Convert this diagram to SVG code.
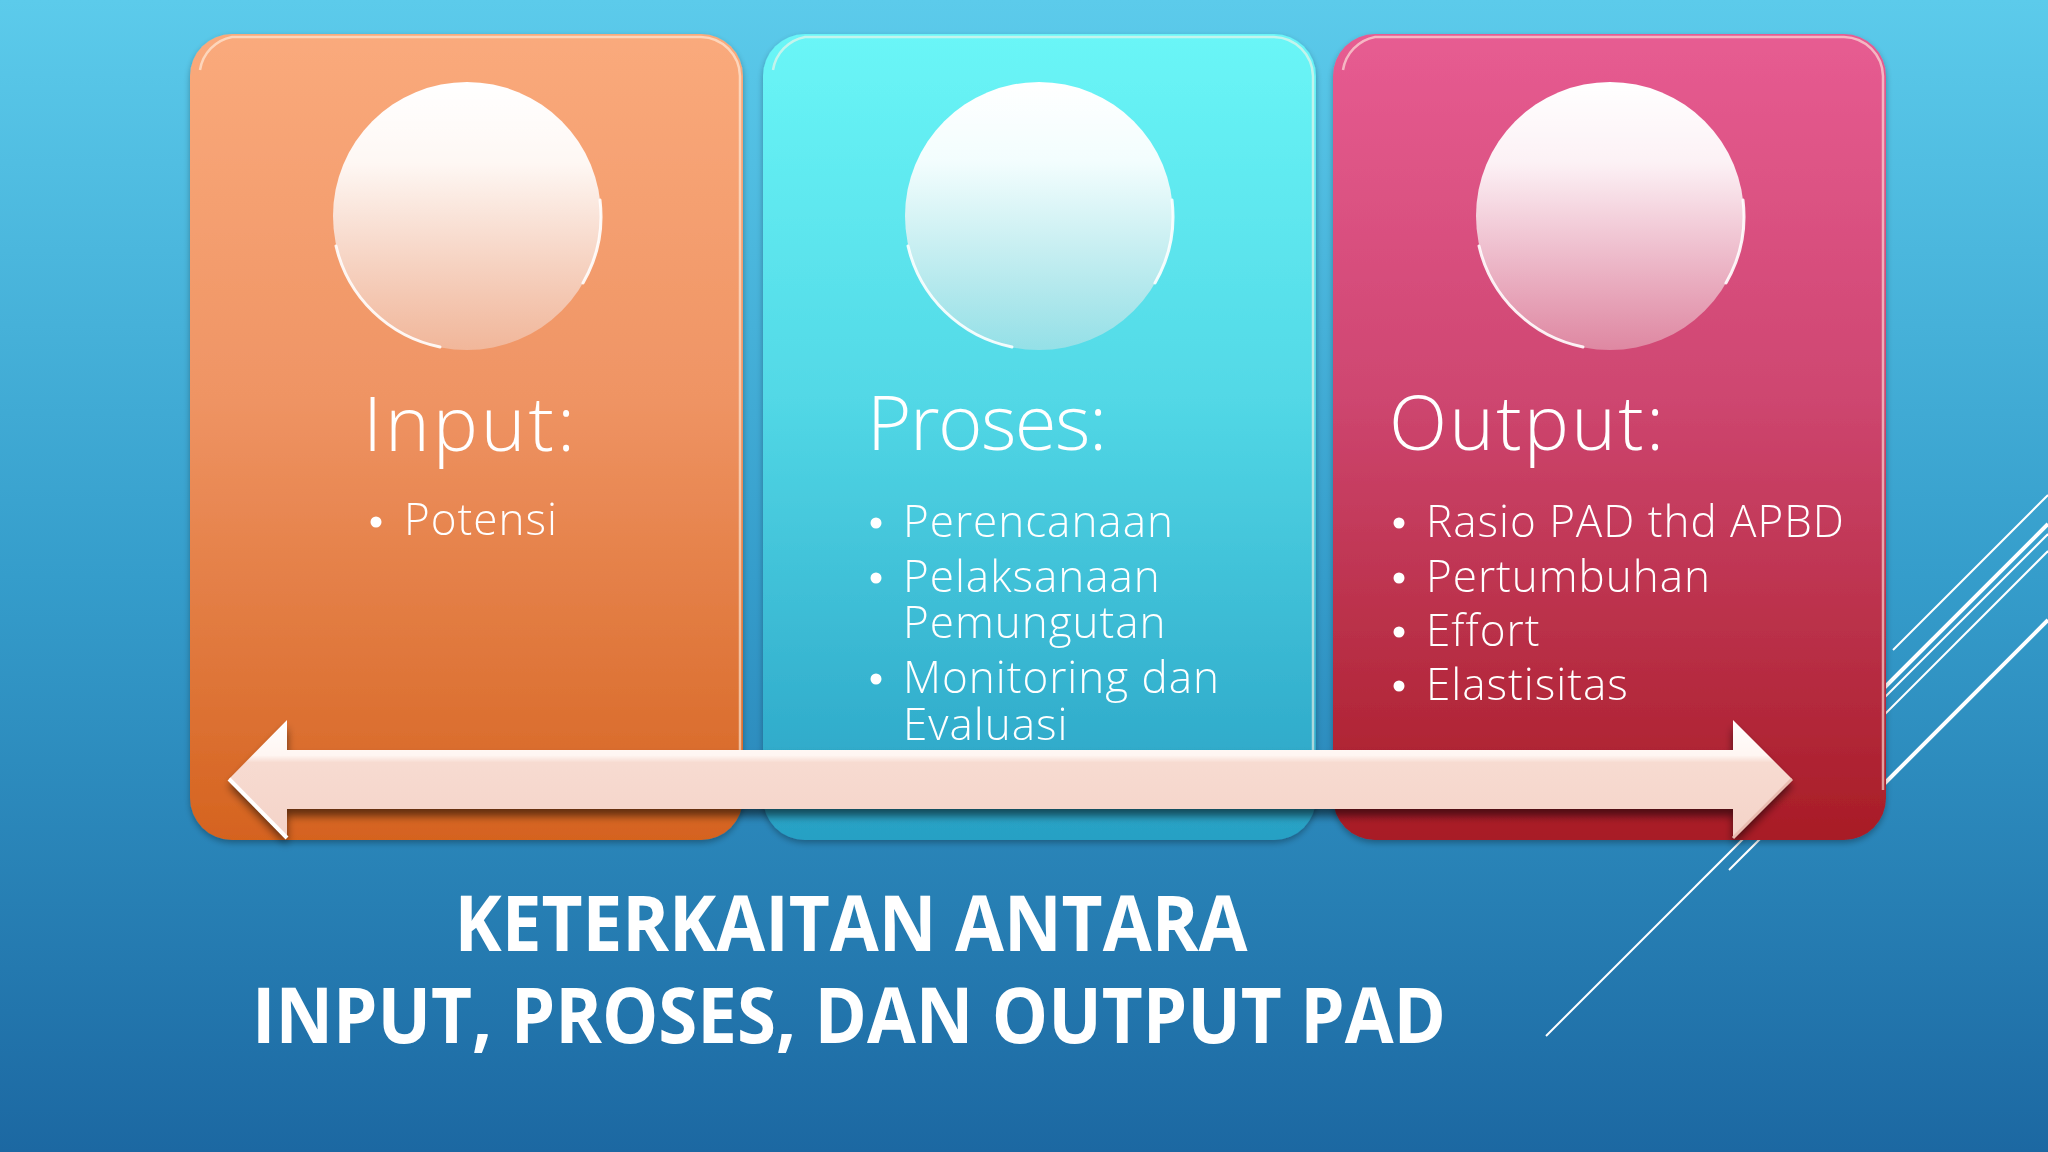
<svg xmlns="http://www.w3.org/2000/svg" width="2048" height="1152" viewBox="0 0 2048 1152">
  <defs>
    <linearGradient id="bg" x1="0" y1="0" x2="0" y2="1">
      <stop offset="0" stop-color="#5CCBEB"/>
      <stop offset="0.5" stop-color="#359DCB"/>
      <stop offset="1" stop-color="#1C68A2"/>
    </linearGradient>
    <linearGradient id="gOrange" x1="0" y1="0" x2="0" y2="1">
      <stop offset="0" stop-color="#FAAA7C"/>
      <stop offset="0.45" stop-color="#EF9464"/>
      <stop offset="1" stop-color="#D5631F"/>
    </linearGradient>
    <linearGradient id="gCyan" x1="0" y1="0" x2="0" y2="1">
      <stop offset="0" stop-color="#6AF6F7"/>
      <stop offset="0.45" stop-color="#52D8E6"/>
      <stop offset="1" stop-color="#27A0C4"/>
    </linearGradient>
    <linearGradient id="gRed" x1="0" y1="0" x2="0" y2="1">
      <stop offset="0" stop-color="#E75C92"/>
      <stop offset="0.45" stop-color="#CE4670"/>
      <stop offset="1" stop-color="#A81C25"/>
    </linearGradient>
    <linearGradient id="gCircle" x1="0" y1="0" x2="0" y2="1">
      <stop offset="0" stop-color="#FFFFFF" stop-opacity="1"/>
      <stop offset="0.3" stop-color="#FFFFFF" stop-opacity="0.92"/>
      <stop offset="1" stop-color="#F2E6E6" stop-opacity="0.4"/>
    </linearGradient>
    <linearGradient id="gArrow" x1="0" y1="0" x2="0" y2="1">
      <stop offset="0" stop-color="#FFFFFF"/>
      <stop offset="0.3" stop-color="#FFF6F2"/>
      <stop offset="0.36" stop-color="#F7DBD1"/>
      <stop offset="1" stop-color="#F4D3C8"/>
    </linearGradient>
    <filter id="shadow" x="-5%" y="-20%" width="110%" height="150%">
      <feGaussianBlur in="SourceAlpha" stdDeviation="4"/>
      <feOffset dx="0" dy="7" result="o"/>
      <feComponentTransfer><feFuncA type="linear" slope="0.55"/></feComponentTransfer>
      <feMerge><feMergeNode/><feMergeNode in="SourceGraphic"/></feMerge>
    </filter>
    <filter id="pshadow" x="-5%" y="-5%" width="110%" height="110%">
      <feGaussianBlur in="SourceAlpha" stdDeviation="3"/>
      <feOffset dx="0" dy="3" result="o"/>
      <feComponentTransfer><feFuncA type="linear" slope="0.3"/></feComponentTransfer>
      <feMerge><feMergeNode/><feMergeNode in="SourceGraphic"/></feMerge>
    </filter>
    <style>
      .deco { stroke: #FFFFFF; fill: none; stroke-linecap: butt; }
      .panel-rim { fill: none; stroke: #FFF3E6; stroke-opacity: 0.6; stroke-width: 2.5; }
      .circle { fill: url(#gCircle); }
      .circle-rim { fill: none; stroke: #FFFFFF; stroke-width: 3; stroke-opacity: 0.9; stroke-linecap: round; }
      .head { font-family: "Open Sans", "Liberation Sans", sans-serif; font-weight: 300; font-size: 76px; fill: #FFFFFF; }
      .item { font-family: "Open Sans", "Liberation Sans", sans-serif; font-weight: 300; font-size: 44px; letter-spacing: 1px; fill: #FFFFFF; }
      .bullet { fill: #FFFFFF; }
      .title { font-family: "Open Sans", "Liberation Sans", sans-serif; font-weight: 700; font-size: 77px; fill: #FFFFFF; text-anchor: middle; }
    </style>
  </defs>

  <rect id="background" x="0" y="0" width="2048" height="1152" fill="url(#bg)"/>

  <g id="decor-lines">
    <line class="deco" x1="1893" y1="650" x2="2048" y2="495" stroke-width="2"/>
    <line class="deco" x1="1850" y1="722" x2="2048" y2="524" stroke-width="4"/>
    <line class="deco" x1="1546" y1="1036" x2="2048" y2="534" stroke-width="2"/>
    <line class="deco" x1="1729" y1="870" x2="2048" y2="551" stroke-width="2"/>
    <line class="deco" x1="1860" y1="808" x2="2048" y2="620" stroke-width="4"/>
  </g>

  <g id="node-input" filter="url(#pshadow)">
    <rect x="190" y="34" width="553" height="806" rx="42" fill="url(#gOrange)"/>
    <path class="panel-rim" d="M 200 70 A 40 40 0 0 1 232 37 L 701 37 A 40 40 0 0 1 740 76 L 740 790"/>
    <circle class="circle" cx="467" cy="216" r="134"/>
    <path class="circle-rim" d="M 336 246 A 134 134 0 0 0 440 347"/>
    <path class="circle-rim" d="M 600 200 A 134 134 0 0 1 583 283" stroke-width="2"/>
    <text class="head" x="363" y="451" textLength="212">Input:</text>
    <circle class="bullet" cx="376" cy="522" r="5.5"/>
    <text class="item" x="404" y="535">Potensi</text>
  </g>

  <g id="node-proses" filter="url(#pshadow)">
    <rect x="763" y="34" width="553" height="806" rx="42" fill="url(#gCyan)"/>
    <path class="panel-rim" d="M 773 70 A 40 40 0 0 1 805 37 L 1274 37 A 40 40 0 0 1 1313 76 L 1313 790"/>
    <circle class="circle" cx="1039" cy="216" r="134"/>
    <path class="circle-rim" d="M 908 246 A 134 134 0 0 0 1012 347"/>
    <path class="circle-rim" d="M 1172 200 A 134 134 0 0 1 1155 283" stroke-width="2"/>
    <text class="head" x="867" y="450" textLength="240">Proses:</text>
    <circle class="bullet" cx="876" cy="523" r="5.5"/>
    <text class="item" x="903" y="537">Perencanaan</text>
    <circle class="bullet" cx="876" cy="578" r="5.5"/>
    <text class="item" x="903" y="592">Pelaksanaan</text>
    <text class="item" x="903" y="638">Pemungutan</text>
    <circle class="bullet" cx="876" cy="679" r="5.5"/>
    <text class="item" x="903" y="693">Monitoring dan</text>
    <text class="item" x="903" y="740">Evaluasi</text>
  </g>

  <g id="node-output" filter="url(#pshadow)">
    <rect x="1333" y="34" width="553" height="806" rx="42" fill="url(#gRed)"/>
    <path class="panel-rim" d="M 1343 70 A 40 40 0 0 1 1375 37 L 1844 37 A 40 40 0 0 1 1883 76 L 1883 790"/>
    <circle class="circle" cx="1610" cy="216" r="134"/>
    <path class="circle-rim" d="M 1479 246 A 134 134 0 0 0 1583 347"/>
    <path class="circle-rim" d="M 1743 200 A 134 134 0 0 1 1726 283" stroke-width="2"/>
    <text class="head" x="1389" y="450" textLength="275">Output:</text>
    <circle class="bullet" cx="1399" cy="523" r="5.5"/>
    <text class="item" x="1426" y="537">Rasio PAD thd APBD</text>
    <circle class="bullet" cx="1399" cy="578" r="5.5"/>
    <text class="item" x="1426" y="592">Pertumbuhan</text>
    <circle class="bullet" cx="1399" cy="632" r="5.5"/>
    <text class="item" x="1426" y="646">Effort</text>
    <circle class="bullet" cx="1399" cy="686" r="5.5"/>
    <text class="item" x="1426" y="700">Elastisitas</text>
  </g>

  <g id="connectors">
    <path id="double-arrow" filter="url(#shadow)" fill="url(#gArrow)" d="M 229 779 L 287 720 L 287 750 L 1733 750 L 1733 720 L 1792 779 L 1733 838 L 1733 809 L 287 809 L 287 838 Z"/>
    <path d="M 229 779 L 287 838" stroke="#FFFFFF" stroke-width="4" fill="none"/>
    <path d="M 1733 838 L 1792 779" stroke="#E9BCB0" stroke-width="3" fill="none"/>
  </g>

  <g id="title">
    <text class="title" x="851" y="951" textLength="793" lengthAdjust="spacingAndGlyphs">KETERKAITAN ANTARA</text>
    <text class="title" x="849" y="1043" textLength="1194" lengthAdjust="spacingAndGlyphs">INPUT, PROSES, DAN OUTPUT PAD</text>
  </g>
</svg>
